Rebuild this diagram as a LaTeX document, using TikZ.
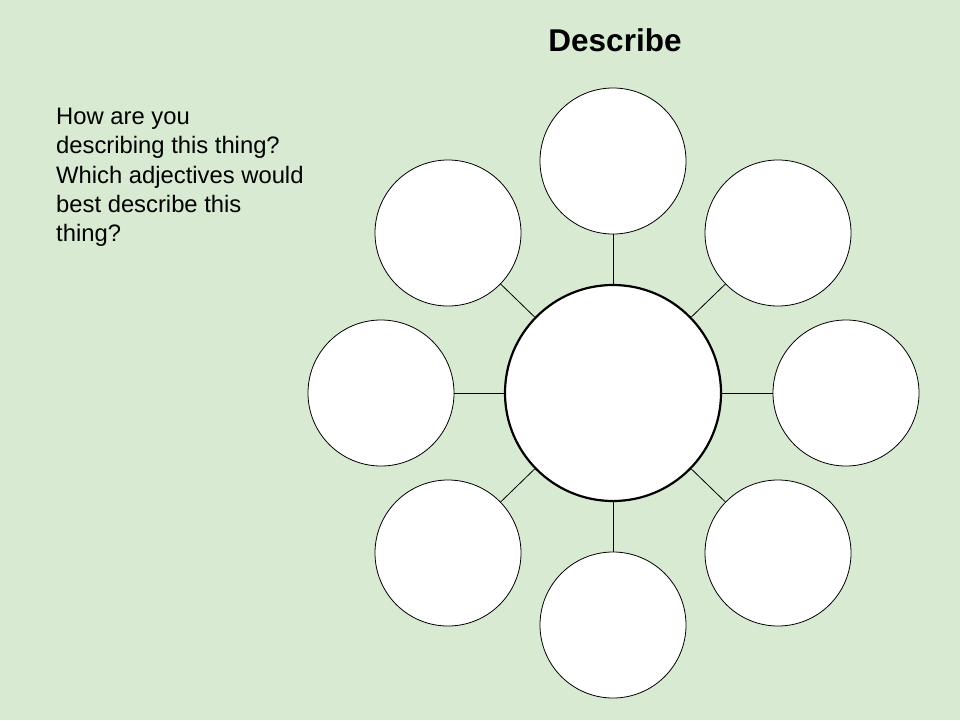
\documentclass[tikz,border=0pt]{standalone}
\usepackage{fontspec}
\setmainfont{Liberation Sans}
\definecolor{bg}{HTML}{D9EAD3}
\begin{document}
\begin{tikzpicture}[x=1pt,y=-1pt,
  outer/.style={circle,draw=black,fill=white,line width=0.8pt,minimum size=146pt,inner sep=0pt},
  hub/.style={circle,draw=black,fill=white,line width=2.2pt,minimum size=216pt,inner sep=0pt},
  link/.style={draw=black,line width=0.8pt}]
\fill[bg] (0,0) rectangle (960,720);
\useasboundingbox (0,0) rectangle (960,720);
\node[font=\bfseries\fontsize{31.5}{36}\selectfont] (title) at (615,40) {Describe};
\node[anchor=north west,align=left,font=\fontsize{23.8}{29.3}\selectfont,inner sep=0pt] (q) at (56,108) {How are you\\describing this thing?\\Which adjectives would\\best describe this\\thing?};
\node[hub] (c) at (613,393) {};
\node[outer] (n) at (613,161) {};
\node[outer] (nw) at (448,233) {};
\node[outer] (ne) at (778,233) {};
\node[outer] (w) at (381,393) {};
\node[outer] (e) at (846,393) {};
\node[outer] (sw) at (448,553) {};
\node[outer] (se) at (778,553) {};
\node[outer] (s) at (613,625) {};
\foreach \o in {n,nw,ne,w,e,sw,se,s} \draw[link] (c) -- (\o);
\end{tikzpicture}
\end{document}
